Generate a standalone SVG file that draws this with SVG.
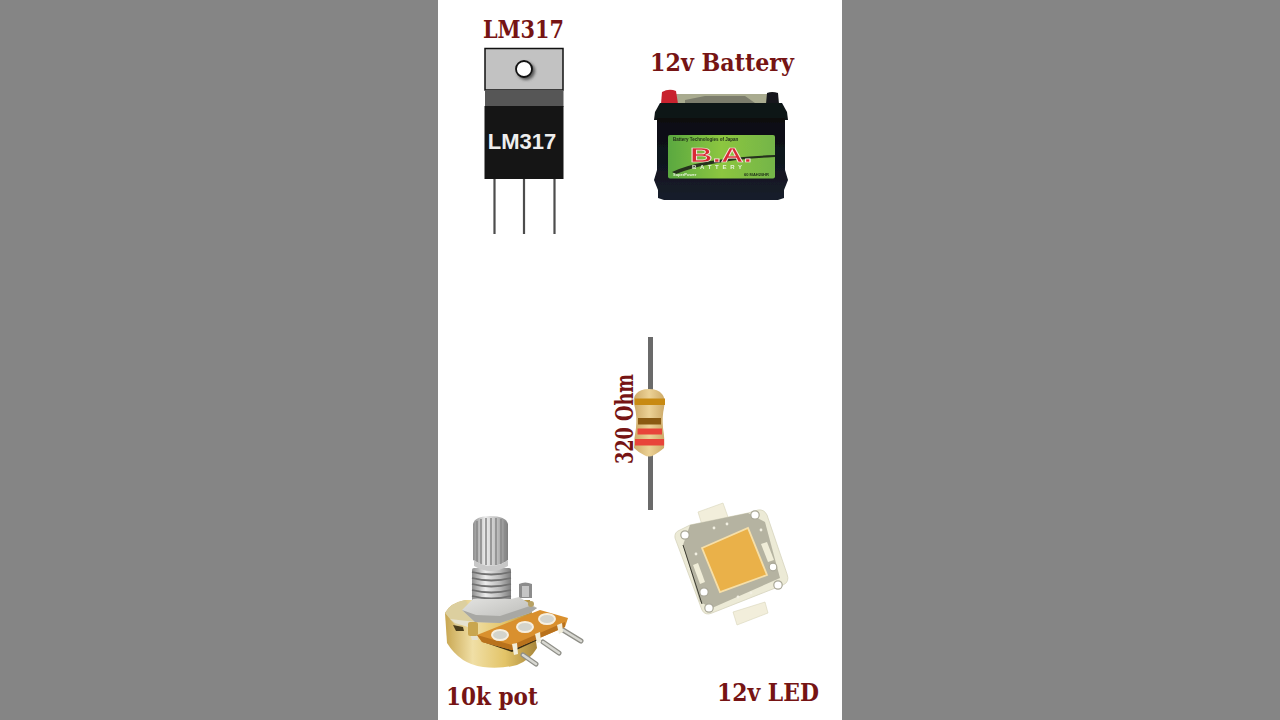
<svg xmlns="http://www.w3.org/2000/svg" width="1280" height="720" viewBox="0 0 1280 720">
<style>
.t{font-family:"DejaVu Serif Condensed","DejaVu Serif",serif;font-weight:700;font-stretch:condensed;fill:#761414;font-size:25px}
.s{font-family:"Liberation Sans",Arial,sans-serif;font-weight:700}
.leg{stroke:#4d4d4d;stroke-width:2.2;fill:none}
.pin{stroke:#8f8f88;stroke-width:5;stroke-linecap:round;fill:none}
.pin2{stroke:#d8d8d2;stroke-width:2.6;stroke-linecap:round;fill:none}
.hole{fill:#d4d4cc;stroke:#f6efe0;stroke-width:2}
.k{stroke:#8a8a8a;stroke-width:1.6;fill:none}
.th{stroke:#6f6f6f;stroke-width:1.8;fill:none}
.bh{fill:#fff;stroke:#a9a797;stroke-width:1.2}
.dot{fill:#f2f0e2}
.sl{fill:#f0edd8}
.tb{fill:#f2eedb}
</style>
<defs>
<linearGradient id="gold" x1="0" x2="1" y1="0" y2="0"><stop offset="0" stop-color="#c8a650"/><stop offset=".3" stop-color="#f0dfa6"/><stop offset=".65" stop-color="#e3c468"/><stop offset="1" stop-color="#a8863a"/></linearGradient>
<linearGradient id="metal" x1="0" x2="1" y1="0" y2="0"><stop offset="0" stop-color="#8f8f8f"/><stop offset=".35" stop-color="#ececec"/><stop offset=".7" stop-color="#bcbcbc"/><stop offset="1" stop-color="#7d7d7d"/></linearGradient>
<linearGradient id="hex" x1="0" x2="1" y1="0" y2="1"><stop offset="0" stop-color="#e4e4e2"/><stop offset="1" stop-color="#b6b6b2"/></linearGradient>
<linearGradient id="green" x1="0" x2="1" y1="0" y2="0"><stop offset="0" stop-color="#5aa83f"/><stop offset=".5" stop-color="#8cc63f"/><stop offset="1" stop-color="#74b548"/></linearGradient>
<linearGradient id="batt" x1="0" x2="0" y1="0" y2="1"><stop offset="0" stop-color="#0a0c10"/><stop offset="1" stop-color="#161d2b"/></linearGradient>
<linearGradient id="res" x1="0" x2="1" y1="0" y2="0"><stop offset="0" stop-color="#cdaa68"/><stop offset=".5" stop-color="#ecd296"/><stop offset="1" stop-color="#cdaa68"/></linearGradient>
<filter id="sh" x="-50%" y="-50%" width="200%" height="200%"><feGaussianBlur stdDeviation="1.5"/></filter>
<filter id="soft" x="-5%" y="-5%" width="110%" height="110%"><feGaussianBlur stdDeviation=".55"/></filter>
</defs>
<rect width="1280" height="720" fill="#858585"/>
<rect x="438" width="404" height="720" fill="#fff"/>

<g id="lm317">
<path class="leg" d="M494.500 178V234M524 178V234M554.500 178V234"/>
<rect x="485" y="48.500" width="78" height="41.500" fill="#c2c2c2" stroke="#111" stroke-width="1.500"/>
<rect x="485" y="90" width="78.500" height="17" fill="#565656"/>
<rect x="484.500" y="106" width="79" height="73" fill="#151515"/>
<circle cx="526" cy="71" r="9" fill="#555" filter="url(#sh)"/>
<circle cx="524" cy="69" r="8" fill="#fff" stroke="#111" stroke-width="1.800"/>
<text class="s" x="522" y="149" font-size="22" fill="#eee" text-anchor="middle">LM317</text>
<text class="t" x="483" y="38" textLength="81" lengthAdjust="spacingAndGlyphs">LM317</text>
</g>

<g id="battery">
<text class="t" x="650" y="71" textLength="144" lengthAdjust="spacingAndGlyphs">12v Battery</text>
<g filter="url(#soft)">
<path d="M676 94H767V104H676Z" fill="#a9ab8f"/>
<path d="M685 100L705 96H745L755 103H685Z" fill="#7b7d6c"/>
<path d="M662 92Q669 88 676 91L678 104H661Z" fill="#c8202e"/>
<path d="M767 93Q772 91 778 93L779 104H766Z" fill="#16181a"/>
<path d="M660 103H782L787 112L788 120H654L655 112Z" fill="#101317"/>
<path d="M657 118H785V170L788 180L784 190V198L778 200H664L658 198V190L654 180L657 170Z" fill="url(#batt)"/>
<rect x="668" y="135" width="107" height="43.500" rx="2" fill="url(#green)"/>
<path d="M672 172Q700 158 775 155L775 157Q710 160 676 174Z" fill="#25301f"/>
<text class="s" x="673" y="140.500" font-size="4.500" fill="#20301a">Battery Technologies of Japan</text>
<text class="s" x="690" y="162" font-size="21" fill="#d82b34" stroke="#f5e6e0" stroke-width=".7" textLength="62" lengthAdjust="spacingAndGlyphs">B.A.</text>
<text class="s" x="692" y="169" font-size="6" fill="#e8f2dc" textLength="50">BATTERY</text>
<text class="s" x="673" y="176" font-size="4" fill="#e8f2dc">SuperPower</text>
<text class="s" x="744" y="176" font-size="4" fill="#20301a">60 MAH20HR</text>
</g>
</g>

<g id="resistor">
<rect x="648" y="337" width="5" height="173" fill="#6a6a6a"/>
<path d="M636 394Q640 389 649 389Q658 389 662 394Q666 398 664 408Q662 416 663 428Q665 440 664 448Q658 453 654 455Q649 458 644 455Q638 452 634 448Q634 438 636 428Q637 416 635 408Q632 398 636 394Z" fill="url(#res)"/>
<rect x="635" y="398.500" width="30" height="6.500" fill="#c88a12"/>
<rect x="638" y="418" width="23" height="6.500" fill="#8a5a12"/>
<rect x="637.500" y="428.500" width="24.500" height="6" fill="#e8443a"/>
<rect x="635" y="439" width="29" height="6.500" fill="#e8443a"/>
<text class="t" transform="translate(633 464) rotate(-90)" textLength="90" lengthAdjust="spacingAndGlyphs" font-size="22">320 Ohm</text>
</g>

<g id="potentiometer">
<g filter="url(#soft)">
<path d="M445 613Q450 603 465 600L530 600L537 648Q530 660 517 665Q500 669 483 667Q460 664 447 643Z" fill="url(#gold)"/>
<path d="M445 613Q450 603 465 600L480 622L456 626Z" fill="#dccf9f"/>
<path d="M450 619L476 622L478 640L472 640L468 627L455 623Z" fill="#e6e2d0"/>
<path d="M453 625L463 627L464 631L456 631Z" fill="#4a3d1e"/>
<rect x="468" y="622" width="10" height="14" rx="2" fill="#c9a650"/>
<rect x="472" y="568" width="39" height="42" rx="2" fill="url(#metal)"/>
<path class="th" d="M472 572Q491 577 511 572M472 578Q491 583 511 578M472 584Q491 589 511 584M472 590Q491 595 511 590M472 596Q491 601 511 596M472 602Q491 607 511 602"/>
<path d="M473 524Q475 516 490 516Q506 516 508 524V560Q491 572 473 560Z" fill="url(#metal)"/>
<path class="k" d="M477 521V562M481 519V564M486 518V565M491 518V565M496 518V565M501 519V564M505 521V562"/>
<path d="M474 560Q491 572 508 560V566Q491 576 474 566Z" fill="#c8c8c8"/>
<path d="M519 584Q525 581 532 584V598H519Z" fill="#8c8c8c"/>
<path d="M522 586H529V597H522Z" fill="#c5c5c5"/>
<path d="M462 610L473 599H511L519 597L537 608L530 613L500 623L475 622Z" fill="url(#hex)"/>
<path d="M462 610L475 622L500 623L530 613L537 608L530 606L500 616L476 615Z" fill="#a8a8a4"/>
<circle cx="531" cy="604" r="3" fill="#b7a163"/>
<path d="M483 642L512 652L538 640L520 630L490 634Z" fill="#3b2e14"/>
<path class="pin" d="M523 655L536 664M543 642L559 653M563 630L581 641"/>
<path class="pin2" d="M523 655L536 664M543 642L559 653M563 630L581 641"/>
<path d="M477 635L540 610L568 618L565 627L512 650L482 642Z" fill="#d9902f"/>
<path d="M477 635L512 645L565 622L565 627L512 650L482 642Z" fill="#b9721f"/>
<path class="tb" d="M512 644L517 643L518 654L514 655Z"/>
<path class="tb" d="M535 634L540 632L541 642L537 643Z"/>
<path class="tb" d="M557 625L562 623L563 632L559 634Z"/>
<ellipse class="hole" cx="500" cy="635" rx="8" ry="5"/>
<ellipse class="hole" cx="525" cy="627" rx="8" ry="5"/>
<ellipse class="hole" cx="547" cy="619" rx="8" ry="5"/>
</g>
<text class="t" x="446" y="705" textLength="92" lengthAdjust="spacingAndGlyphs" font-size="27">10k pot</text>
</g>

<g id="led">
<g filter="url(#soft)">
<path class="tb" d="M698 512L723 503L728 517L702 525Z" stroke="#d8d5bb" stroke-width=".6"/>
<path class="tb" d="M733 612L765 602L768 613L737 625Z" stroke="#d8d5bb" stroke-width=".6"/>
<path d="M675 538Q674 532 680 530L690 525L748 513L758 510Q764 509 767 515L787 574Q790 582 783 585L712 613Q705 616 702 610Z" fill="#ecead6" stroke="#d6d3bd" stroke-width=".8"/>
<path d="M690 525L748 513L765 522L780 578L712 608L700 602L683 545Z" fill="#b5b3a1"/>
<path d="M683 545L702 604" stroke="#3a3a30" stroke-width="1" fill="none"/>
<path d="M702 548L748 528L767 575L720 592Z" fill="#eab14a" stroke="#f6dfa8" stroke-width="1.800"/>
<circle class="bh" cx="685" cy="535" r="4.200"/>
<circle class="bh" cx="755" cy="515" r="4.200"/>
<circle class="bh" cx="778" cy="585" r="4.200"/>
<circle class="bh" cx="709" cy="608" r="4.200"/>
<circle class="bh" cx="704" cy="592" r="4.200"/>
<circle class="bh" cx="773" cy="567" r="3.800"/>
<path class="sl" d="M693 565L698 563L705 582L700 584Z"/>
<path class="sl" d="M761 544L767 542L774 560L768 562Z"/>
<circle class="dot" cx="714" cy="528" r="1.400"/>
<circle class="dot" cx="727" cy="524" r="1.400"/>
<circle class="dot" cx="696" cy="554" r="1.400"/>
<circle class="dot" cx="761" cy="530" r="1.400"/>
<circle class="dot" cx="738" cy="597" r="1.400"/>
<circle class="dot" cx="751" cy="593" r="1.400"/>
</g>
<text class="t" x="717" y="700.500" textLength="102" lengthAdjust="spacingAndGlyphs">12v LED</text>
</g>
</svg>
